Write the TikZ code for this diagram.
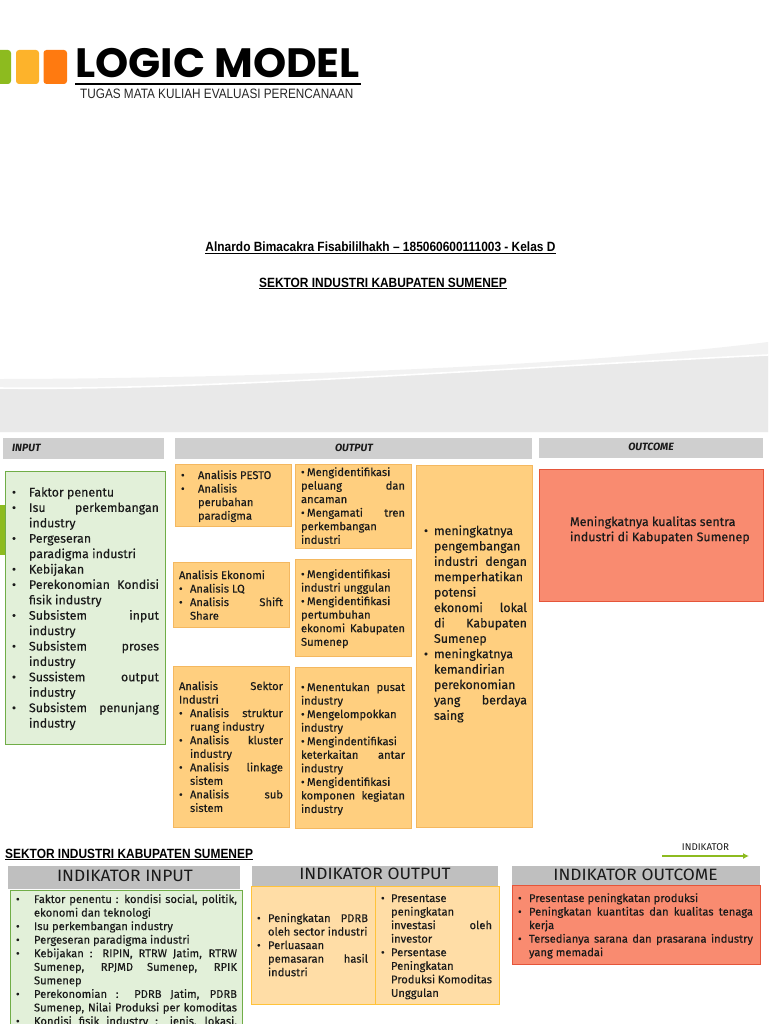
\documentclass[tikz,border=0pt]{standalone}
\usepackage{fontspec}
\usetikzlibrary{arrows.meta}
\setmainfont[FakeBold=0.25]{Fira Sans}
\newfontfamily\logofont[FakeStretch=1.03]{Poppins}
\newfontfamily\narrowfont[FakeStretch=0.89]{Liberation Sans}
\newfontfamily\subfont[FakeStretch=0.865]{Liberation Sans}
\newfontfamily\hdrfont{Fira Sans}
\newfontfamily\hdbfont[FakeStretch=1.06]{Fira Sans}
\definecolor{ink}{HTML}{1A1A1A}
\definecolor{hdrA}{HTML}{CFCFCF}
\definecolor{hdrB}{HTML}{BFBFBF}
\definecolor{greenF}{HTML}{E2F0D9}
\definecolor{greenD}{HTML}{70AD47}
\definecolor{orangeF}{HTML}{FFCF7F}
\definecolor{orangeD}{HTML}{F4B860}
\definecolor{paleF}{HTML}{FFDDA6}
\definecolor{paleD}{HTML}{FFC33A}
\definecolor{redF}{HTML}{F98B70}
\definecolor{redD}{HTML}{E5553A}
\definecolor{barG}{HTML}{8DBB1F}
\definecolor{barA}{HTML}{FDB32B}
\definecolor{barO}{HTML}{FF7A10}
\newdimen\pW \newdimen\pL \newdimen\pR \newdimen\pI \newdimen\pB
% panel: width, height, plain-text left, right pad, indented text left, bullet left, first baseline, lines
\newcommand\panel[8]{\vbox to #2pt{\hsize=#1pt \pW=#1pt \pL=#3pt \pR=#4pt \pI=#5pt \pB=#6pt
  \lineskiplimit=-100pt \hbadness=10000 \hfuzz=3pt
  \vskip\dimexpr#7pt-\baselineskip\relax \prevdepth=0pt #8\vfil}}
\newcommand\linL[1]{\hbox to \pW{\hskip\pL #1\hss}}
\newcommand\linJ[1]{\hbox to \pW{\hskip\pL\hbox to \dimexpr\pW-\pL-\pR\relax{#1}\hss}}
\newcommand\bulL[1]{\hbox to \pW{\hskip\pB\hbox to 0pt{•\hss}\hskip\dimexpr\pI-\pB\relax #1\hss}}
\newcommand\bulJ[1]{\hbox to \pW{\hskip\pB\hbox to 0pt{•\hss}\hskip\dimexpr\pI-\pB\relax\hbox to \dimexpr\pW-\pI-\pR\relax{#1}\hss}}
\newcommand\indL[1]{\hbox to \pW{\hskip\pI #1\hss}}
\newcommand\indJ[1]{\hbox to \pW{\hskip\pI\hbox to \dimexpr\pW-\pI-\pR\relax{#1}\hss}}
\tikzset{
  panelbox/.style={anchor=north west,inner sep=0pt,outer sep=0pt,text=ink,line width=0.9pt},
  greenbox/.style={panelbox,draw=greenD,fill=greenF},
  orangebox/.style={panelbox,draw=orangeD,fill=orangeF},
  palebox/.style={panelbox,draw=paleD,fill=paleF},
  redbox/.style={panelbox,draw=redD,fill=redF},
  large/.style={font=\fontsize{12.4}{15.4}\selectfont},
  small/.style={font=\fontsize{11.2}{13.55}\selectfont},
  hdrtop/.style={fill=hdrA,anchor=north west,inner sep=0pt,outer sep=0pt},
  hdrbot/.style={fill=hdrB,anchor=north west,inner sep=0pt,outer sep=0pt},
  hdrtoplabel/.style={font=\hdrfont\itshape\bfseries\fontsize{10.5}{11}\selectfont,text=ink,inner sep=0pt},
  hdrbotlabel/.style={font=\hdbfont\fontsize{16.4}{18}\selectfont,text=ink,inner sep=0pt},
  headline/.style={font=\narrowfont\bfseries\fontsize{13.4}{15}\selectfont,text=black,inner sep=0pt},
  logosq/.style={rounded corners=3pt}
}
\begin{document}
\begin{tikzpicture}[x=1pt,y=-1pt]
\useasboundingbox (0,0) rectangle (768,1024);
\clip (0,0) rectangle (768,1024);
% swoosh
\fill[black!5] (0,379) .. controls (100,379) and (500,375) .. (768,342) -- (768,432) -- (0,432) -- cycle;
\fill[black!8.5] (0,388) .. controls (200,391) and (500,368) .. (768,355) -- (768,432) -- (0,432) -- cycle;
\draw[white,line width=1.6pt] (0,388) .. controls (200,391) and (500,368) .. (768,355);
% logo
\fill[barG,logosq] (-12,50) rectangle (11,84);
\fill[barA,logosq] (16,50) rectangle (39,84);
\fill[barO,logosq] (43.5,50) rectangle (67,84);
\node[anchor=base west,inner sep=0pt,font=\logofont\bfseries\fontsize{41}{41}\selectfont] (logo) at (75,78) {LOGIC MODEL};
\fill[black] (75,83) rectangle (361,85.5);
\node[anchor=base west,inner sep=0pt,font=\subfont\fontsize{13.6}{15}\selectfont,text=black!85] (sub) at (80,99) {TUGAS MATA KULIAH EVALUASI PERENCANAAN};
% headlines
\node[headline] (author) at (380.5,247.5) {\underline{Alnardo Bimacakra Fisabililhakh – 185060600111003 - Kelas D}};
\node[headline] (sector) at (383,283.5) {\underline{SEKTOR INDUSTRI KABUPATEN SUMENEP}};
% top headers
\node[hdrtop,minimum width=161pt,minimum height=21pt] (hInput) at (3,438) {};
\node[hdrtop,minimum width=357pt,minimum height=21pt] (hOutput) at (175,438) {};
\node[hdrtop,minimum width=224pt,minimum height=20pt] (hOutcome) at (539,438) {};
\node[hdrtoplabel,anchor=west] (tInput) at (12,447.5) {INPUT};
\node[hdrtoplabel] (tOutput) at (354,447.5) {OUTPUT};
\node[hdrtoplabel] (tOutcome) at (651,447) {OUTCOME};
% green bar behind input
\fill[barG] (0,505) rectangle (6,555);
% input
\node[greenbox,large] (input) at (5,471) {\panel{160}{273}{24}{6}{24}{7}{25.5}{%
  \bulL{Faktor penentu}
  \bulJ{Isu perkembangan}
  \indL{industry}
  \bulL{Pergeseran}
  \indL{paradigma industri}
  \bulL{Kebijakan}
  \bulJ{Perekonomian Kondisi}
  \indL{fisik industry}
  \bulJ{Subsistem input}
  \indL{industry}
  \bulJ{Subsistem proses}
  \indL{industry}
  \bulJ{Sussistem output}
  \indL{industry}
  \bulJ{Subsistem penunjang}
  \indL{industry}}};
% analysis column
\node[orangebox,small] (pesto) at (175,464) {\panel{116}{62}{23}{6}{23}{6}{15}{%
  \bulL{Analisis PESTO}
  \bulL{Analisis}
  \indL{perubahan}
  \indL{paradigma}}};
\node[orangebox,small] (eko) at (173,562) {\panel{116}{65}{6}{6}{17}{6}{17}{%
  \linL{Analisis Ekonomi}
  \bulL{Analisis LQ}
  \bulJ{Analisis Shift}
  \indL{Share}}};
\node[orangebox,small] (sektor) at (173,666) {\panel{116}{161}{6}{6}{17}{6}{24}{%
  \linJ{Analisis Sektor}
  \linL{Industri}
  \bulJ{Analisis struktur}
  \indL{ruang industry}
  \bulJ{Analisis kluster}
  \indL{industry}
  \bulJ{Analisis linkage}
  \indL{sistem}
  \bulJ{Analisis sub}
  \indL{sistem}}};
% output column
\node[orangebox,small] (o1) at (295,464) {\panel{116}{84}{6}{6}{12}{6}{12}{%
  \bulL{Mengidentifikasi}
  \linJ{peluang dan}
  \linL{ancaman}
  \bulJ{Mengamati tren}
  \linL{perkembangan}
  \linL{industri}}};
\node[orangebox,small] (o2) at (295,559) {\panel{116}{97}{6}{6}{12}{6}{19}{%
  \bulL{Mengidentifikasi}
  \linL{industri unggulan}
  \bulL{Mengidentifikasi}
  \linL{pertumbuhan}
  \linJ{ekonomi Kabupaten}
  \linL{Sumenep}}};
\node[orangebox,small] (o3) at (295,667) {\panel{116}{161}{6}{6}{12}{6}{24}{%
  \bulJ{Menentukan pusat}
  \linL{industry}
  \bulL{Mengelompokkan}
  \linL{industry}
  \bulL{Mengindentifikasi}
  \linJ{keterkaitan antar}
  \linL{industry}
  \bulL{Mengidentifikasi}
  \linJ{komponen kegiatan}
  \linL{industry}}};
\node[orangebox,large] (big) at (416,465) {\panel{116}{362}{18}{5}{18}{8}{70}{%
  \bulL{meningkatnya}
  \indL{pengembangan}
  \indJ{industri dengan}
  \indL{memperhatikan}
  \indL{potensi}
  \indJ{ekonomi lokal}
  \indJ{di Kabupaten}
  \indL{Sumenep}
  \bulL{meningkatnya}
  \indL{kemandirian}
  \indL{perekonomian}
  \indJ{yang berdaya}
  \indL{saing}}};
% outcome
\node[redbox,font=\fontsize{12.5}{15.2}\selectfont] (outcome) at (539,469) {\panel{224}{132}{31}{6}{31}{6}{57}{%
  \linL{Meningkatnya kualitas sentra}
  \linL{industri di Kabupaten Sumenep}}};
% lower section
\node[anchor=base west,inner sep=0pt,font=\narrowfont\bfseries\fontsize{13.4}{15}\selectfont] (sector2) at (5,858) {\underline{SEKTOR INDUSTRI KABUPATEN SUMENEP}};
\coordinate (arrowA) at (662,856);
\coordinate (arrowB) at (749,856);
\draw[barG,line width=1.5pt,-{Latex[length=6pt,width=6pt]}] (arrowA) -- (arrowB);
\node[inner sep=0pt,font=\hdrfont\fontsize{9.8}{10}\selectfont,text=ink] (legend) at (705.5,847.5) {INDIKATOR};
\node[hdrbot,minimum width=232pt,minimum height=23pt] (hbInput) at (8,866) {};
\node[hdrbot,minimum width=246pt,minimum height=20pt] (hbOutput) at (252,866) {};
\node[hdrbot,minimum width=248pt,minimum height=19pt] (hbOutcome) at (512,866) {};
\node[hdrbotlabel] (lbInput) at (125,875.5) {INDIKATOR INPUT};
\node[hdrbotlabel] (lbOutput) at (375,874) {INDIKATOR OUTPUT};
\node[hdrbotlabel] (lbOutcome) at (635.5,875) {INDIKATOR OUTCOME};
\node[greenbox,small] (binput) at (10,890) {\panel{232}{150}{24}{5}{24}{6}{13}{%
  \bulJ{Faktor penentu : kondisi social, politik,}
  \indL{ekonomi dan teknologi}
  \bulL{Isu perkembangan industry}
  \bulL{Pergeseran paradigma industri}
  \bulJ{Kebijakan : RIPIN, RTRW Jatim, RTRW}
  \indJ{Sumenep, RPJMD Sumenep, RPIK}
  \indL{Sumenep}
  \bulJ{Perekonomian : PDRB Jatim, PDRB}
  \indJ{Sumenep, Nilai Produksi per komoditas}
  \bulJ{Kondisi fisik industry : jenis, lokasi,}}};
\node[palebox,small] (boutA) at (251,886) {\panel{124}{118}{17}{7}{17}{6}{36}{%
  \bulJ{Peningkatan PDRB}
  \indL{oleh sector industri}
  \bulL{Perluasaan}
  \indJ{pemasaran hasil}
  \indL{industri}}};
\node[palebox,small] (boutB) at (375,886) {\panel{124}{118}{16}{7}{16}{6}{16}{%
  \bulL{Presentase}
  \indL{peningkatan}
  \indJ{investasi oleh}
  \indL{investor}
  \bulL{Persentase}
  \indL{Peningkatan}
  \indJ{Produksi Komoditas}
  \indL{Unggulan}}};
\node[redbox,small] (boutC) at (512,885) {\panel{248}{79}{17}{7}{17}{6}{17}{%
  \bulL{Presentase peningkatan produksi}
  \bulJ{Peningkatan kuantitas dan kualitas tenaga}
  \indL{kerja}
  \bulJ{Tersedianya sarana dan prasarana industry}
  \indL{yang memadai}}};
\end{tikzpicture}
\end{document}
